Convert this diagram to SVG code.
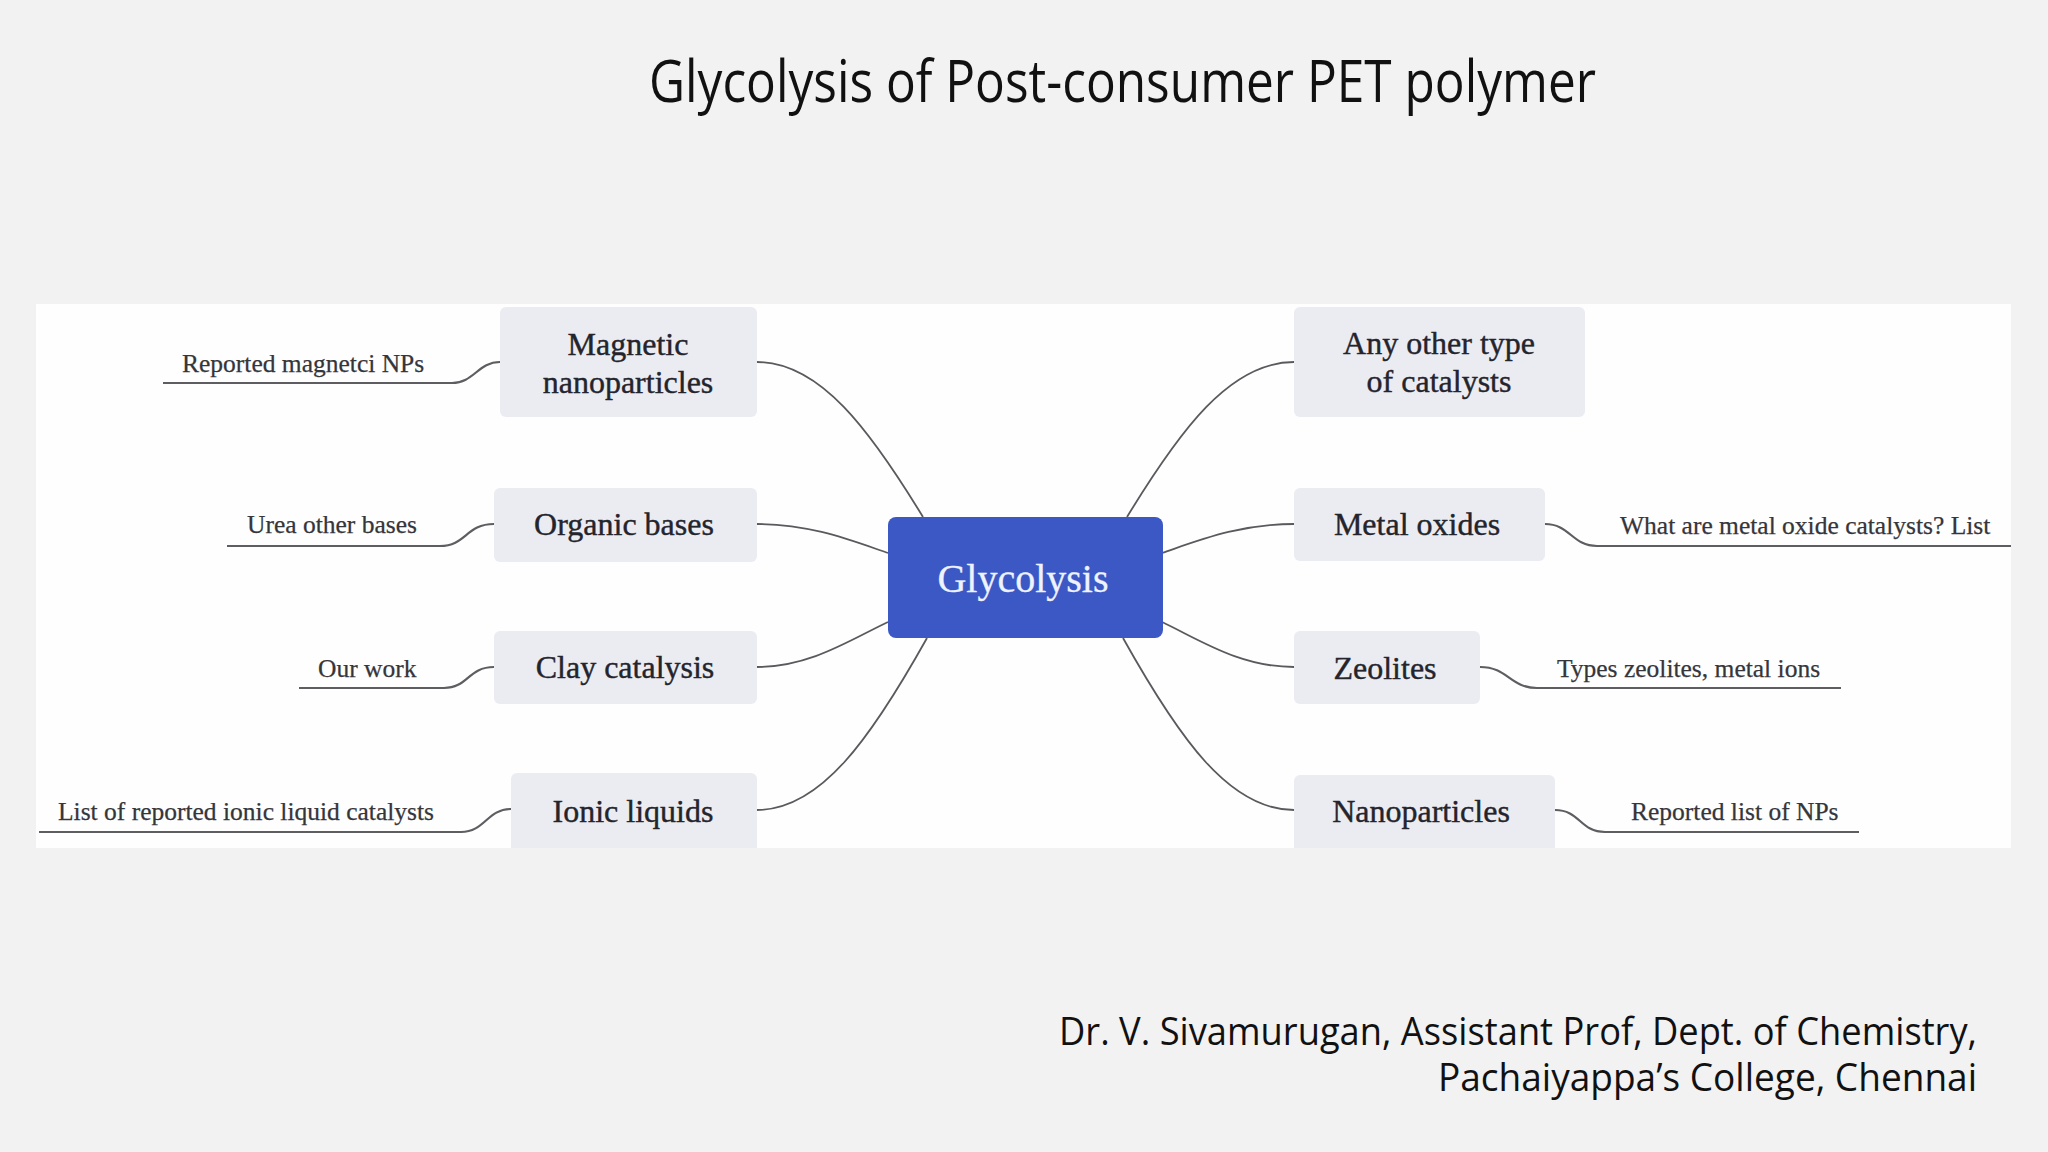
<svg xmlns="http://www.w3.org/2000/svg" width="2048" height="1152" viewBox="0 0 2048 1152">
<style>
.bg{fill:#f2f2f3}
.panel{fill:#fefefe}
.box{fill:#ebecf2}
.center{fill:#3b58c5}
.nt{font-family:"Liberation Serif","Times New Roman",serif;font-size:32px;fill:#24242c;stroke:#24242c;stroke-width:0.4;text-anchor:middle}
.ct{font-family:"Liberation Serif","Times New Roman",serif;font-size:40px;fill:#eef3ff;stroke:#eef3ff;stroke-width:0.3;text-anchor:middle}
.lt{font-family:"Liberation Serif","Times New Roman",serif;font-size:25.5px;fill:#35353a;stroke:#35353a;stroke-width:0.25}
.edge{fill:none;stroke:#5a5a5e;stroke-width:1.8}
.leaf{fill:none;stroke:#5e5e62;stroke-width:2.2}
.slide{font-family:"Open Sans","Noto Sans","Liberation Sans",sans-serif;font-weight:400;fill:#111}
</style>
<defs>
<clipPath id="pc"><rect x="36" y="304" width="1975" height="544"/></clipPath>
</defs>
<rect class="bg" x="0" y="0" width="2048" height="1152"/>
<text class="slide" x="649" y="102" font-size="58" textLength="947" lengthAdjust="spacingAndGlyphs">Glycolysis of Post-consumer PET polymer</text>
<rect class="panel" x="36" y="304" width="1975" height="544"/>
<g clip-path="url(#pc)">
<g id="connectors">
<path class="edge" d="M757,362 C820,362 870,430 923,517"/>
<path class="edge" d="M757,524 C810,524 850,540 888,553"/>
<path class="edge" d="M757,667 C810,667 850,640 888,622"/>
<path class="edge" d="M757,810 C820,810 870,740 927,638"/>
<path class="edge" d="M1294,362 C1230,362 1180,430 1127,517"/>
<path class="edge" d="M1294,524 C1240,524 1200,540 1162,553"/>
<path class="edge" d="M1294,667 C1240,667 1200,640 1162,622"/>
<path class="edge" d="M1294,810 C1230,810 1180,740 1123,638"/>
<path class="leaf" d="M500,362 C478,362 474,383 452,383 H163"/>
<path class="leaf" d="M494,524 C466,524 466,546 440,546 H227"/>
<path class="leaf" d="M494,667 C468,667 468,688 444,688 H299"/>
<path class="leaf" d="M511,809 C487,809 485,832 461,832 H39"/>
<path class="leaf" d="M1545,524 C1570,524 1572,546 1597,546 H2011"/>
<path class="leaf" d="M1480,667 C1508,667 1510,688 1537,688 H1841"/>
<path class="leaf" d="M1555,810 C1580,810 1580,832 1605,832 H1859"/>
</g>
<g id="node-center">
<rect class="center" x="888" y="517" width="275" height="121" rx="8"/>
<text class="ct" x="1023" y="592">Glycolysis</text>
</g>
<g id="node-magnetic">
<rect class="box" x="500" y="307" width="257" height="110" rx="6"/>
<text class="nt" x="628" y="355">Magnetic</text>
<text class="nt" x="628" y="393">nanoparticles</text>
</g>
<g id="node-organic">
<rect class="box" x="494" y="488" width="263" height="74" rx="6"/>
<text class="nt" x="624" y="535">Organic bases</text>
</g>
<g id="node-clay">
<rect class="box" x="494" y="631" width="263" height="73" rx="6"/>
<text class="nt" x="625" y="678">Clay catalysis</text>
</g>
<g id="node-ionic">
<rect class="box" x="511" y="773" width="246" height="85" rx="6"/>
<text class="nt" x="633" y="822">Ionic liquids</text>
</g>
<g id="node-other">
<rect class="box" x="1294" y="307" width="291" height="110" rx="6"/>
<text class="nt" x="1439" y="354">Any other type</text>
<text class="nt" x="1439" y="392">of catalysts</text>
</g>
<g id="node-metal">
<rect class="box" x="1294" y="488" width="251" height="73" rx="6"/>
<text class="nt" x="1417" y="535">Metal oxides</text>
</g>
<g id="node-zeolites">
<rect class="box" x="1294" y="631" width="186" height="73" rx="6"/>
<text class="nt" x="1385" y="679">Zeolites</text>
</g>
<g id="node-nano">
<rect class="box" x="1294" y="775" width="261" height="85" rx="6"/>
<text class="nt" x="1421" y="822">Nanoparticles</text>
</g>
<g id="leaf-labels">
<text class="lt" x="182" y="372">Reported magnetci NPs</text>
<text class="lt" x="247" y="533">Urea other bases</text>
<text class="lt" x="318" y="677">Our work</text>
<text class="lt" x="58" y="820">List of reported ionic liquid catalysts</text>
<text class="lt" x="1620" y="534">What are metal oxide catalysts? List</text>
<text class="lt" x="1557" y="677">Types zeolites, metal ions</text>
<text class="lt" x="1631" y="820">Reported list of NPs</text>
</g>
</g>
<text class="slide" x="1977" y="1045" font-size="39" text-anchor="end" textLength="918" lengthAdjust="spacingAndGlyphs">Dr. V. Sivamurugan, Assistant Prof, Dept. of Chemistry,</text>
<text class="slide" x="1977" y="1091" font-size="39" text-anchor="end" textLength="539" lengthAdjust="spacingAndGlyphs">Pachaiyappa’s College, Chennai</text>
</svg>
